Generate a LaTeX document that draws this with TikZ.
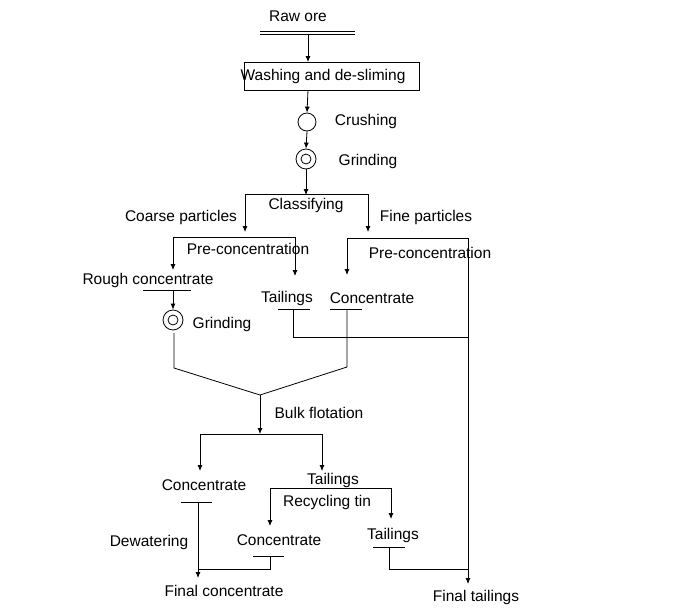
\documentclass[tikz,border=0pt]{standalone}
\usepackage{fontspec}
\setmainfont{Liberation Sans}
\usetikzlibrary{arrows.meta}
\begin{document}
\begin{tikzpicture}[x=1pt,y=-1pt,line width=0.8pt,
  lbl/.style={font=\fontsize{15.5}{18}\selectfont,inner sep=0pt},
  arr/.style={-{Latex[length=6pt,width=5pt]}},
  circ/.style={circle,draw,minimum size=18pt,inner sep=0pt}]
\useasboundingbox (0,0) rectangle (680,611);
% top
\node[lbl] (raw) at (298,16) {Raw ore};
\draw (260,31) -- (355,31); \draw (260,34) -- (355,34);
\coordinate (rawb) at (308,34);
\node[draw,minimum width=175pt,minimum height=28pt,inner sep=0pt] (wbox) at (331.5,76) {};
\node[lbl] (wash) at (323,76) {Washing and de-sliming};
\draw[arr] (rawb) -- (308,62);
\node[circ] (crush) at (307,122) {};
\node[lbl] at (366,121) {Crushing};
\draw[arr] (308,90) -- (crush.north);
\node[circle,draw,minimum size=20pt,inner sep=0pt] (grind) at (306,159) {};
\draw (306,159) circle (5);
\node[lbl] at (368,161) {Grinding};
\draw[arr] (crush.south) -- (grind.north);
\draw[arr] (grind.south) -- (306,195);
\draw (245,194) -- (368,194);
\draw[arr] (245,194) -- (245,232);
\draw[arr] (368,194) -- (368,232);
\node[lbl] at (306,205) {Classifying};
\node[lbl] at (181,217) {Coarse particles};
\node[lbl] at (426,217) {Fine particles};
% pre-concentration left
\draw (173,237) -- (296,237);
\draw[arr] (173,237) -- (173,270);
\draw[arr] (295,237) -- (295,276);
\node[lbl] at (248,249) {Pre-concentration};
% right
\draw (347,238) -- (468,238);
\draw[arr] (347,238) -- (347,275);
\node[lbl] at (430,253) {Pre-concentration};
\node[lbl] (ft) at (476,597) {Final tailings};
\draw[arr] (468,238) -- (468,584);
% rough concentrate
\node[lbl] (rough) at (148,280) {Rough concentrate};
\draw (143,290) -- (191,290);
\node[circle,draw,minimum size=20pt,inner sep=0pt] (g2) at (173,320) {};
\draw (173,320) circle (5);
\node[lbl] at (222,324) {Grinding};
\draw[arr] (173,290) -- (g2.north);
\node[lbl] (tail1) at (287,298) {Tailings};
\draw (278,309) -- (310,309);
\node[lbl] (conc1) at (372,298) {Concentrate};
\draw (330,309) -- (362,309);
\draw (293,309) -- (293,337) -- (468,337);
\coordinate (merge) at (260,395);
\draw (347,309) -- (347,367) -- (merge);
\draw (174,333) -- (174,368) -- (merge);
\draw[arr] (merge) -- (260,434);
\node[lbl] at (319,413) {Bulk flotation};
% flotation split
\draw (200,434) -- (322,434);
\draw[arr] (200,434) -- (200,471);
\draw[arr] (322,434) -- (322,471);
\node[lbl] (conc2) at (204,485) {Concentrate};
\draw (181,502) -- (212,502);
\node[lbl] (fc) at (224,591) {Final concentrate};
\draw[arr] (198,502) -- (198,578);
\node[lbl] (tail2) at (333,480) {Tailings};
\draw (270,488) -- (391,488);
\draw[arr] (270,488) -- (270,526);
\draw[arr] (391,488) -- (391,519);
\node[lbl] at (327,502) {Recycling tin};
\node[lbl] (conc3) at (279,540) {Concentrate};
\draw (253,556) -- (284,556);
\draw (270,556) -- (270,569) -- (198,569);
\node[lbl] (tail3) at (393,535) {Tailings};
\draw (373,547) -- (405,547);
\draw (389,547) -- (389,569) -- (468,569);
\node[lbl] at (149,542) {Dewatering};
\end{tikzpicture}
\end{document}
